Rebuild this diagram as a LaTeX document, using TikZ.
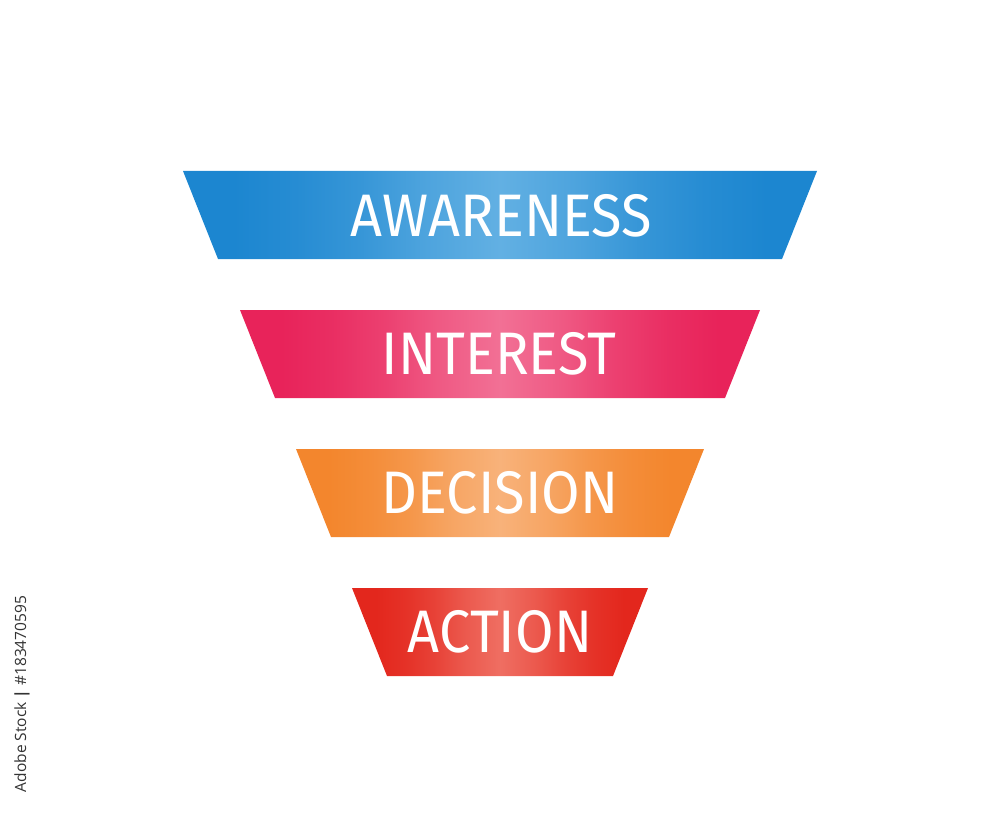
\documentclass[tikz,border=0pt]{standalone}
\usepackage{fontspec}
\setmainfont{Fira Sans}
\newfontfamily\idfont{Open Sans}
\definecolor{blueE}{HTML}{1C86D0}
\definecolor{blueC}{HTML}{62B0E3}
\definecolor{pinkE}{HTML}{E8235A}
\definecolor{pinkC}{HTML}{F27095}
\definecolor{orangeE}{HTML}{F3862D}
\definecolor{orangeC}{HTML}{F8B27A}
\definecolor{redE}{HTML}{E3271D}
\definecolor{redC}{HTML}{EF6E62}
\newcommand\mkshade[3]{%
  \pgfdeclarehorizontalshading{#1}{100bp}{%
    color(0bp)=(#2); color(29bp)=(#2);
    color(34bp)=(#2!85!#3); color(39bp)=(#2!62!#3); color(44bp)=(#2!30!#3);
    color(50bp)=(#3);
    color(56bp)=(#2!30!#3); color(61bp)=(#2!62!#3); color(66bp)=(#2!85!#3);
    color(71bp)=(#2); color(100bp)=(#2)}}
\mkshade{bluesh}{blueE}{blueC}
\mkshade{pinksh}{pinkE}{pinkC}
\mkshade{orangesh}{orangeE}{orangeC}
\mkshade{redsh}{redE}{redC}
\begin{document}
\begin{tikzpicture}[x=1pt,y=-1pt]
\useasboundingbox (0,0) rectangle (1000,834);
\tikzset{
  lbl/.style={text=white, inner sep=0pt, font=\fontsize{60}{60}\selectfont},
  idtext/.style={rotate=90, inner sep=0pt, text=black!80, font=\idfont\fontsize{15.5}{16}\selectfont}
}
% bands
\shade[shading=bluesh]
  (183,171) -- (817,171) -- (782,259) -- (218,259) -- cycle;
\shade[shading=pinksh]
  (240,310) -- (760,310) -- (725,398) -- (275,398) -- cycle;
\shade[shading=orangesh]
  (296,449) -- (704,449) -- (669,537) -- (331,537) -- cycle;
\shade[shading=redsh]
  (352,588) -- (648,588) -- (613,676) -- (387,676) -- cycle;
% labels
\node[lbl] (aw) at (501,216) {\scalebox{0.93}[1]{AWARENESS}};
\node[lbl] (in) at (499,354) {\scalebox{0.93}[1]{INTEREST}};
\node[lbl] (de) at (500,493) {\scalebox{0.93}[1]{DECISION}};
\node[lbl] (ac) at (500,632) {\scalebox{0.93}[1]{ACTION}};
% id
\node[idtext] (id) at (22,694) {Adobe Stock \textbf{|} \#183470595};
\end{tikzpicture}
\end{document}
